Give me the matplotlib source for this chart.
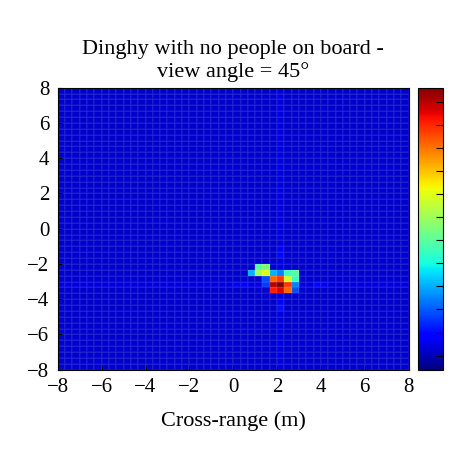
import numpy as np
import matplotlib.pyplot as plt

plt.rcParams['font.family'] = ['Liberation Serif', 'DejaVu Serif']

n_cells = 48
extent = 8.0
background = 0.07

# (column, row, value) of the bright cells, 0 = left/bottom
hot_cells = [
    (29, 14, 0.95), (30, 14, 1.0), (30, 13, 0.92), (29, 13, 0.88), (31, 14, 0.85),
    (31, 13, 0.8), (29, 15, 0.8), (30, 15, 0.85), (31, 15, 0.6),
    (27, 16, 0.55), (28, 16, 0.62), (27, 17, 0.45), (28, 17, 0.5), (26, 16, 0.3),
    (32, 15, 0.42), (32, 16, 0.45), (31, 16, 0.42), (29, 16, 0.3), (30, 16, 0.25),
    (28, 15, 0.2), (28, 14, 0.18), (32, 14, 0.25), (32, 13, 0.2),
    (30, 10, 0.14), (30, 11, 0.12), (30, 19, 0.13), (30, 20, 0.11),
    (25, 14, 0.12), (35, 14, 0.13), (24, 14, 0.1), (36, 14, 0.1),
]
# faint streaks through the target: (column or row index, value)
col_streak = [(30, 0.085)]
row_streak = [(14, 0.085)]

img = np.full((n_cells, n_cells), background)
for c, v in col_streak:
    img[:, c] = v
for r, v in row_streak:
    img[r, :] = np.maximum(img[r, :], v)
for c, r, v in hot_cells:
    img[r, c] = v

fig = plt.figure(figsize=(4.74, 4.74), dpi=100)
ax = fig.add_axes([0.122, 0.22, 0.74, 0.595])
cax = fig.add_axes([0.882, 0.22, 0.053, 0.595])
edges = np.linspace(-extent, extent, n_cells + 1)
mesh = ax.pcolormesh(edges, edges, img, cmap='jet', vmin=0, vmax=1,
                     edgecolor=(1, 1, 1, 0.06), linewidth=0.3)
ax.set_xlim(-8, 8)
ax.set_ylim(-8, 8)
ticks = list(range(-8, 9, 2))
labels = [str(t).replace('-', '\u2212') for t in ticks]
ax.set_xticks(ticks)
ax.set_yticks(ticks)
ax.set_xticklabels(labels)
ax.set_yticklabels(labels)
ax.tick_params(labelsize=15, direction='in', length=3)
ax.tick_params(axis='y', pad=6)
ax.tick_params(axis='x', pad=6)
ax.set_xlabel('Cross-range (m)', fontsize=16, labelpad=10)
ax.set_title('Dinghy with no people on board -\nview angle = 45°', fontsize=16, pad=8)

cb = fig.colorbar(mesh, cax=cax)
cb.set_ticks(np.linspace(0.05, 0.95, 12))
cb.ax.tick_params(labelright=False, direction='in', length=5, right=True)

fig.savefig('out.png')
